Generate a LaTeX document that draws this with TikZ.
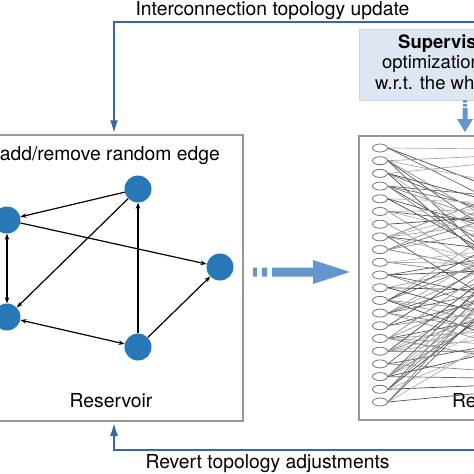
\documentclass[tikz,border=0pt]{standalone}
\usepackage{fontspec}
\setmainfont{TeX Gyre Heros}
\usetikzlibrary{arrows.meta,shapes.geometric}
\definecolor{nodeblue}{RGB}{40,120,184}
\definecolor{linkblue}{RGB}{55,105,170}
\definecolor{fatblue}{RGB}{100,150,206}
\definecolor{supfill}{RGB}{222,231,241}
\definecolor{supedge}{RGB}{200,214,230}
\definecolor{boxgray}{RGB}{150,150,150}
\begin{document}
\begin{tikzpicture}[x=1pt,y=-1pt,
  lbl/.style={font=\fontsize{19.3}{23}\selectfont, inner sep=0},
  suptext/.style={font=\fontsize{18.5}{22}\selectfont, inner sep=0},
  panel/.style={draw=boxgray, line width=1.5pt, inner sep=0},
  neuron/.style={circle, fill=nodeblue, minimum size=27pt, inner sep=0},
  edge/.style={line width=1.2pt, -{Stealth[length=6pt,width=4.5pt]}},
  bedge/.style={line width=1.2pt, {Stealth[length=6pt,width=4.5pt]}-{Stealth[length=6pt,width=4.5pt]}},
  feedback/.style={draw=linkblue, line width=2.6pt, -{Latex[length=14pt,width=8pt]}},
  unit/.style={ellipse, draw=black!55, line width=0.8pt, fill=white, minimum width=15pt, minimum height=8pt, inner sep=0}
]
\useasboundingbox (0,0) rectangle (474,474);

% panels
\node[panel, minimum width=258pt, minimum height=286pt] (res) at (114,278) {};
\node[panel, minimum width=200pt, minimum height=284pt] (rdo) at (459,278) {};
\node[draw=supedge, fill=supfill, line width=1pt, minimum width=220pt, minimum height=71pt, inner sep=0] (sup) at (469,64.5) {};

% texts
\node[lbl, anchor=base] (t1) at (272.5,15) {Interconnection topology update};
\node[lbl, anchor=base] (t2) at (267.5,468) {Revert topology adjustments};
\node[lbl, anchor=base] (t3) at (111,407) {Reservoir};
\node[lbl, anchor=base east] (t4) at (220,160) {add/remove random edge};
\node[lbl, anchor=base west] (t5) at (452,407) {Readout};
\node[suptext, anchor=base west] (s1) at (398,48.7) {\bfseries Supervised};
\node[suptext, anchor=base west] (s2) at (382,68.7) {optimization};
\node[suptext, anchor=base west] (s3) at (375,89.5) {w.r.t. the whole};

% fat arrows
\fill[fatblue] (253,267.5) rectangle (257,276.5)
  (262,267.5) rectangle (267,276.5)
  (272,267.5) -- (313,267.5) -- (313,260) -- (350,272) -- (313,284) -- (313,276.5) -- (272,276.5) -- cycle;
\fill[fatblue] (463,100) rectangle (467,102.5)
  (463,104) rectangle (467,106.5)
  (462.5,108) -- (467.5,108) -- (467.5,119) -- (473,119) -- (465,132) -- (457,119) -- (462.5,119) -- cycle;

% feedback connectors
\coordinate (topR) at (490,22);
\coordinate (botR) at (490,450);
\draw[feedback] (topR) -| (res.north);
\draw[feedback] (botR) -| (res.south);

% reservoir graph
\node[neuron] (A) at (138,189) {};
\node[neuron] (B) at (7,220) {};
\node[neuron] (C) at (220,267) {};
\node[neuron] (D) at (7,317) {};
\node[neuron] (E) at (138,347) {};
\draw[edge] (A) -- (B);
\draw[edge] (A) -- (D);
\draw[edge] (B) -- (C);
\draw[bedge] (B) -- (D);
\draw[edge] (E) -- (A);
\draw[edge] (E) -- (C);
\draw[bedge] (D) -- (E);

% readout layer
\foreach \j in {0,...,8}{
  \coordinate (h\j) at (620,150+28.75*\j);
}
\foreach \i in {0,...,20}{
  \node[unit] (e\i) at (380,148+12.7*\i) {};
}
\pgfmathsetseed{7}
\foreach \i in {0,...,20}{
  \foreach \j in {0,...,8}{
    \pgfmathsetmacro\keep{rnd}
    \pgfmathsetmacro\sh{25+50*rnd}
    \ifdim\keep pt>0.45pt
      \draw[black!\sh, line width=0.7pt] (e\i.east) -- (h\j);
    \fi
  }
}
\end{tikzpicture}
\end{document}
